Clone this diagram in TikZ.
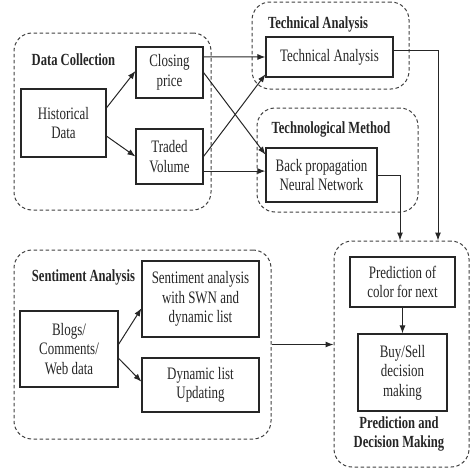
\documentclass[tikz,border=0pt]{standalone}
\usepackage{fontspec}
\setmainfont{Liberation Serif}[FakeStretch=0.74]
\usetikzlibrary{calc,arrows.meta}
\begin{document}
\begin{tikzpicture}[x=1pt,y=-1pt,
  font=\fontsize{17.5}{19.5}\selectfont,
  every node/.style={text=black!85},
  box/.style={draw=black!85,line width=1.1pt,align=center,inner sep=0pt},
  cont/.style={draw=black!75,line width=1pt,dash pattern=on 3.5pt off 2.5pt,rounded corners=18pt,inner sep=0pt},
  lbl/.style={font=\fontsize{17}{19.5}\selectfont\bfseries,align=center,inner sep=0pt},
  conn/.style={draw=black!85,line width=1pt,-{Latex[length=8pt,width=6pt]}}]
\useasboundingbox (0,0) rectangle (474,474);
% containers
\node (dc) [cont,minimum width=197pt,minimum height=177pt] at (112.5,121.5) {};
\node (ta) [cont,minimum width=157pt,minimum height=87pt] at (330.5,45.5) {};
\node (tm) [cont,minimum width=161pt,minimum height=104pt] at (337.5,160) {};
\node (sa) [cont,minimum width=257pt,minimum height=189pt] at (142.5,344.5) {};
\node (pd) [cont,minimum width=135pt,minimum height=226pt] at (401.5,354) {};
% labels
\node (dcl) [lbl] at (73.5,60) {Data Collection};
\node (tal) [lbl] at (318,24) {Technical Analysis};
\node (tml) [lbl] at (331,129) {Technological Method};
\node (sal) [lbl] at (83.5,277) {Sentiment Analysis};
\node (pdl) [lbl] at (399,434) {Prediction and\\Decision Making};
% boxes
\node (hist) [box,minimum width=85pt,minimum height=68pt] at (63.5,123) {Historical\\Data};
\node (close) [box,minimum width=67pt,minimum height=51pt] at (169.5,72.5) {Closing\\price};
\node (traded) [box,minimum width=67pt,minimum height=55pt] at (169.5,156.5) {Traded\\Volume};
\node (tabox) [box,minimum width=127pt,minimum height=40pt] at (329.5,57) {Technical Analysis};
\node (bp) [box,minimum width=111pt,minimum height=54pt] at (321.5,175) {Back propagation\\Neural Network};
\node (pred) [box,minimum width=105pt,minimum height=50pt] at (402.5,282) {Prediction of\\color for next};
\node (buy) [box,minimum width=89pt,minimum height=77pt] at (402.5,372.5) {Buy/Sell\\decision\\making};
\node (blogs) [box,minimum width=98pt,minimum height=76pt] at (69,349) {Blogs/\\Comments/\\Web data};
\node (swn) [box,minimum width=117pt,minimum height=76pt] at (200.5,299) {Sentiment analysis\\with SWN and\\dynamic list};
\node (dyn) [box,minimum width=117pt,minimum height=54pt] at (200.5,385) {Dynamic list\\Updating};
% connectors
\draw[conn] ($(hist.north east)!0.28!(hist.south east)$) -- ([yshift=1.5pt]close.west);
\draw[conn] ($(hist.north east)!0.69!(hist.south east)$) -- (traded.west);
\draw[conn] ($(close.north east)!0.2!(close.south east)$) -- (tabox.west);
\draw[conn] (close.east) -- ($(bp.north west)!0.13!(bp.south west)$);
\draw[conn] ($(traded.north east)!0.5!(traded.south east)$) -- ($(tabox.north west)!0.92!(tabox.south west)$);
\coordinate (tv) at ($(traded.north east)!0.76!(traded.south east)$);
\draw[conn] (tv) -- (tv -| bp.west);
\draw[conn] ($(tabox.north east)!0.33!(tabox.south east)$) -| ([xshift=36.5pt]pd.north);
\draw[conn] (bp.east) -| ([xshift=-1.5pt]pd.north);
\draw[conn] (pred.south) -- (buy.north);
\draw[conn] ($(blogs.north east)!0.44!(blogs.south east)$) -- ($(swn.north west)!0.62!(swn.south west)$);
\draw[conn] ($(blogs.north east)!0.62!(blogs.south east)$) -- ($(dyn.north west)!0.44!(dyn.south west)$);
\draw[conn] (sa.east) -- (sa.east -| pd.west);
\end{tikzpicture}
\end{document}
